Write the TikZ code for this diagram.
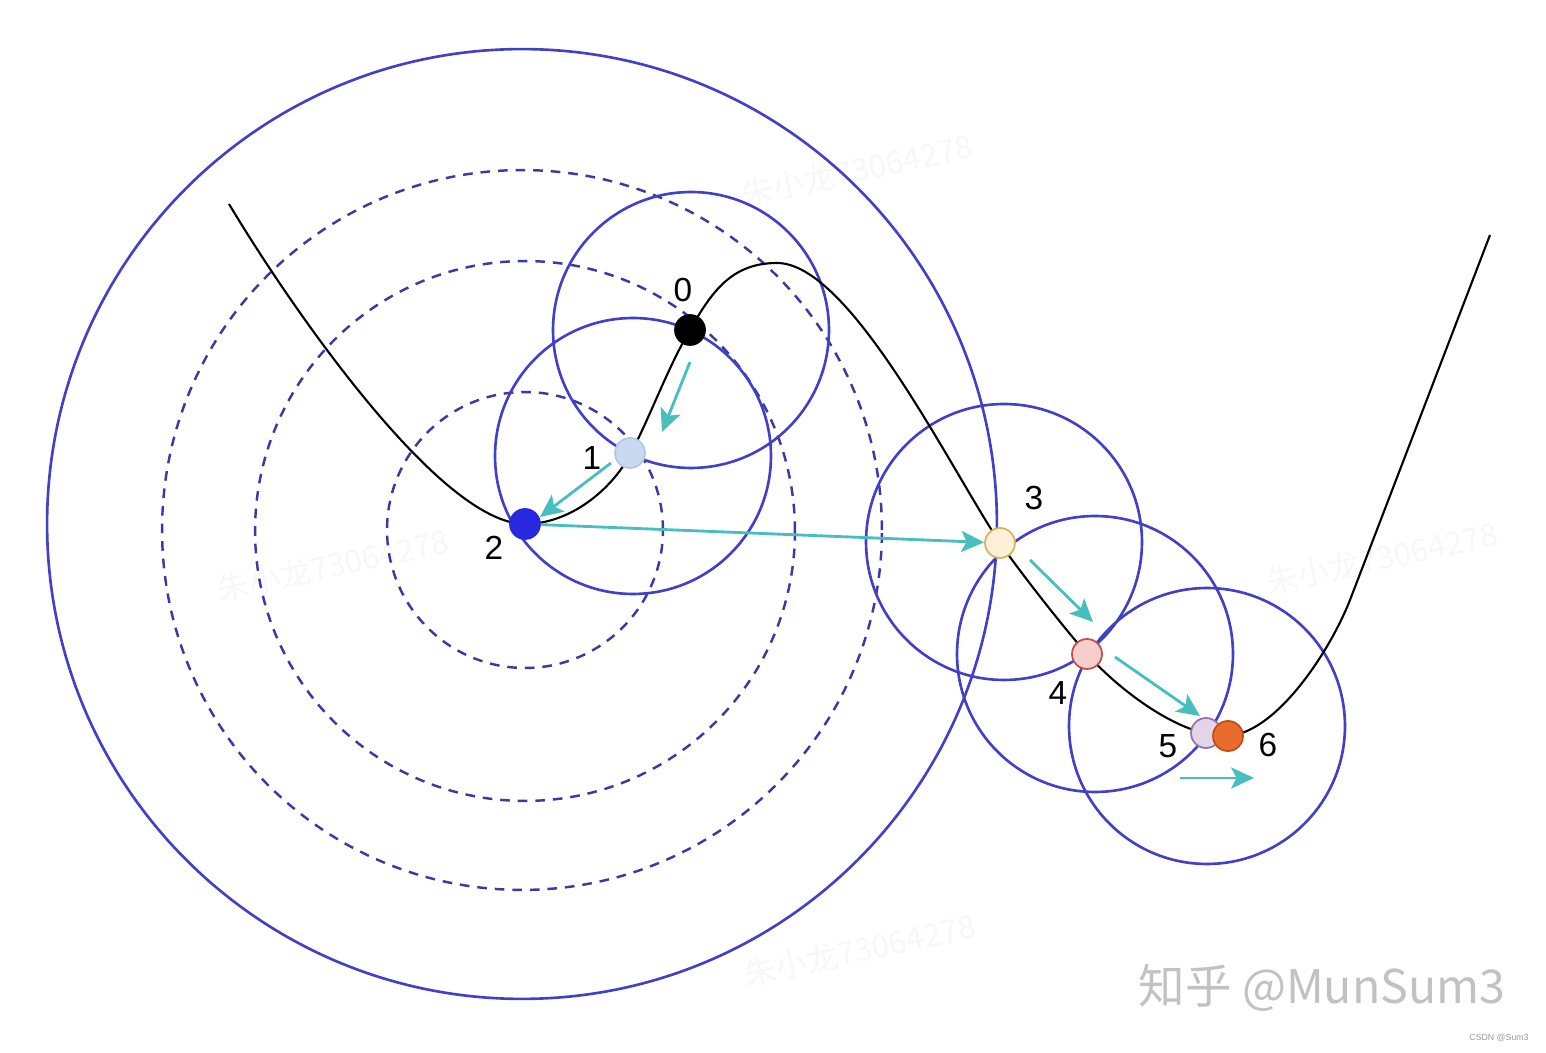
\documentclass[tikz,border=0pt]{standalone}
\usepackage{fontspec}
\setmainfont{Liberation Sans}
\newfontfamily\cjk{Noto Sans CJK SC}
\usetikzlibrary{arrows.meta}
\definecolor{ringblue}{RGB}{64,64,200}
\definecolor{dashblue}{RGB}{58,58,165}
\definecolor{teal2}{RGB}{72,190,190}
\tikzset{
  ring/.style={draw=ringblue, line width=1.5pt},
  dring/.style={draw=dashblue, line width=1.4pt, dash pattern=on 5.5pt off 4.5pt},
  pt/.style={circle, minimum size=0.6cm, inner sep=0pt, line width=1pt},
  lab/.style={font=\fontsize{19}{19}\selectfont, inner sep=0pt},
  arr/.style={draw=teal2, line width=1.6pt, -{Stealth[length=13pt, width=12pt, inset=3pt]}},
  wm/.style={text=black!3, font=\cjk\fontsize{18}{18}\selectfont, rotate=12, inner sep=0pt},
}
\begin{document}
\begin{tikzpicture}[x=0.02cm, y=-0.02cm]
\useasboundingbox (0,0) rectangle (1546,1053);
% faint watermarks
\node[wm] (w1) at (857,170) {朱小龙73064278};
\node[wm] (w2) at (333,565) {朱小龙73064278};
\node[wm] (w3) at (860,950) {朱小龙73064278};
\node[wm] (w4) at (1382,558) {朱小龙73064278};
% big circles
\draw[ring] (522,524) circle[radius=9.5cm];
\draw[dring] (522,530) circle[radius=7.2cm];
\draw[dring] (525,531) circle[radius=5.4cm];
\draw[dring] (525,530) circle[radius=2.76cm];
% small circles
\draw[ring] (691,330) circle[radius=2.76cm];
\draw[ring] (633,456) circle[radius=2.76cm];
\draw[ring] (1004,542) circle[radius=2.76cm];
\draw[ring] (1095,654) circle[radius=2.76cm];
\draw[ring] (1207,726) circle[radius=2.76cm];
% curve
\coordinate (cs) at (229,204);
\coordinate (ce) at (1490,235);
\draw[line width=1.2pt, black] (cs)
  .. controls (290,306) and (440,524) .. (525,524)
  .. controls (570,524) and (611,490) .. (630,455)
  .. controls (651,415) and (667,369) .. (690,330)
  .. controls (712,291) and (732,263) .. (777,263)
  .. controls (850,263) and (950,468) .. (1000,543)
  .. controls (1020,572) and (1064,628) .. (1087,654)
  .. controls (1120,691) and (1180,736) .. (1225,736)
  .. controls (1275,736) and (1330,651) .. (1350,600)
  -- (ce);
% points
\node[pt, fill=black, draw=black] (p0) at (690,330) {};
\node[pt, fill={rgb,255:red,200;green,218;blue,240}, draw={rgb,255:red,180;green,200;blue,225}] (p1) at (630,453) {};
\node[pt, fill={rgb,255:red,40;green,40;blue,225}, draw={rgb,255:red,40;green,40;blue,225}] (p2) at (525,524) {};
\node[pt, fill={rgb,255:red,253;green,240;blue,216}, draw={rgb,255:red,214;green,182;blue,86}] (p3) at (1000,543) {};
\node[pt, fill={rgb,255:red,248;green,206;blue,204}, draw={rgb,255:red,184;green,84;blue,80}] (p4) at (1087,654) {};
\node[pt, fill={rgb,255:red,225;green,213;blue,231}, draw={rgb,255:red,150;green,115;blue,166}] (p5) at (1206,733) {};
\node[pt, fill={rgb,255:red,232;green,108;blue,44}, draw={rgb,255:red,192;green,78;blue,16}] (p6) at (1228,736) {};
% labels
\node[lab] (l0) at (683,290) {0};
\node[lab] (l1) at (592,458) {1};
\node[lab] (l2) at (494,548) {2};
\node[lab] (l3) at (1034,498) {3};
\node[lab] (l4) at (1058,693) {4};
\node[lab] (l5) at (1168,746) {5};
\node[lab] (l6) at (1268,745) {6};
% arrows
\coordinate (a0s) at (690,362); \coordinate (a0e) at (662,432);
\coordinate (a1s) at (611,463); \coordinate (a1e) at (540,517);
\coordinate (a3s) at (1030,560); \coordinate (a3e) at (1093,622);
\coordinate (a4s) at (1115,657); \coordinate (a4e) at (1200,716);
\coordinate (a5s) at (1180,778); \coordinate (a5e) at (1254,778);
\draw[arr] (a0s) -- (a0e);
\draw[arr] (a1s) -- (a1e);
\draw[arr] (p2) -- (p3);
\draw[arr] (a3s) -- (a3e);
\draw[arr] (a4s) -- (a4e);
\draw[arr] (a5s) -- (a5e);
% corner watermark
\node[text=black!24, font=\cjk\fontsize{26.5}{26.5}\selectfont, inner sep=0pt] (zh) at (1322,988) {知乎 @MunSum3};
\node[text=black!40, font=\fontsize{5}{5}\selectfont, inner sep=0pt] (csdn) at (1499,1038) {CSDN @Sum3};
\end{tikzpicture}
\end{document}
